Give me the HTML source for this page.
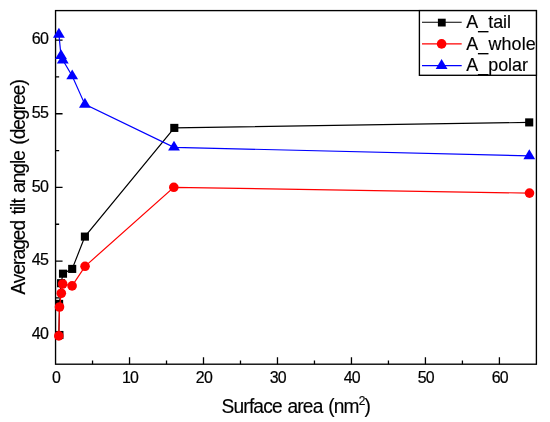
<!DOCTYPE html>
<html><head><meta charset="utf-8"><title>Averaged tilt angle vs surface area</title>
<style>html,body{margin:0;padding:0;background:#fff}svg{display:block}text{font-family:"Liberation Sans",Arial,sans-serif;fill:#000}</style>
</head><body>
<svg width="550" height="422" viewBox="0 0 550 422">
<rect width="550" height="422" fill="#fff"/>
<path d="M55.55 334.73h7M55.55 261.07h7M55.55 187.40h7M55.55 113.73h7M55.55 40.07h7M55.55 297.90h3.6M55.55 224.23h3.6M55.55 150.57h3.6M55.55 76.90h3.6M129.53 364.20v-7M203.50 364.20v-7M277.48 364.20v-7M351.46 364.20v-7M425.43 364.20v-7M499.41 364.20v-7M92.54 364.20v-3.6M166.52 364.20v-3.6M240.49 364.20v-3.6M314.47 364.20v-3.6M388.45 364.20v-3.6M462.42 364.20v-3.6" stroke="#000" stroke-width="1.3" fill="none"/>
<rect x="55.55" y="10.60" width="480.85" height="353.60" fill="none" stroke="#000" stroke-width="1.35"/>
<polyline fill="none" stroke="#000" stroke-width="1.20" points="58.85,335.00 59.50,304.50 61.10,283.20 63.00,273.70 72.20,268.90 84.90,236.60 174.30,127.90 529.20,122.40"/>
<rect x="55.35" y="330.95" width="8.10" height="8.10" fill="#000"/>
<rect x="55.05" y="299.85" width="8.10" height="8.10" fill="#000"/>
<rect x="57.05" y="279.15" width="8.10" height="8.10" fill="#000"/>
<rect x="58.95" y="269.65" width="8.10" height="8.10" fill="#000"/>
<rect x="68.15" y="264.85" width="8.10" height="8.10" fill="#000"/>
<rect x="80.85" y="232.55" width="8.10" height="8.10" fill="#000"/>
<rect x="170.25" y="123.85" width="8.10" height="8.10" fill="#000"/>
<rect x="525.15" y="118.35" width="8.10" height="8.10" fill="#000"/>
<polyline fill="none" stroke="#f00" stroke-width="1.20" points="58.80,335.90 59.50,307.00 61.30,293.25 62.65,284.00 72.10,285.90 85.05,266.30 173.80,187.30 529.50,193.10"/>
<circle cx="58.80" cy="335.90" r="4.80" fill="#f00"/>
<circle cx="59.50" cy="307.00" r="4.80" fill="#f00"/>
<circle cx="61.30" cy="293.25" r="4.80" fill="#f00"/>
<circle cx="62.65" cy="284.00" r="4.80" fill="#f00"/>
<circle cx="72.10" cy="285.90" r="4.80" fill="#f00"/>
<circle cx="85.05" cy="266.30" r="4.80" fill="#f00"/>
<circle cx="173.80" cy="187.30" r="4.80" fill="#f00"/>
<circle cx="529.50" cy="193.10" r="4.80" fill="#f00"/>
<polyline fill="none" stroke="#00f" stroke-width="1.20" points="58.90,34.40 61.00,55.80 62.80,60.10 72.20,76.00 84.90,104.40 174.00,147.30 529.30,155.90"/>
<polygon points="58.90,27.80 53.00,37.70 64.80,37.70" fill="#00f"/>
<polygon points="61.00,49.20 55.10,59.10 66.90,59.10" fill="#00f"/>
<polygon points="62.80,53.50 56.90,63.40 68.70,63.40" fill="#00f"/>
<polygon points="72.20,69.40 66.30,79.30 78.10,79.30" fill="#00f"/>
<polygon points="84.90,97.80 79.00,107.70 90.80,107.70" fill="#00f"/>
<polygon points="174.00,140.70 168.10,150.60 179.90,150.60" fill="#00f"/>
<polygon points="529.30,149.30 523.40,159.20 535.20,159.20" fill="#00f"/>
<rect x="419.4" y="10.60" width="117.00" height="64.70" fill="#fff" stroke="#000" stroke-width="1.35"/>
<path d="M422 22.30H461.7" stroke="#000" stroke-width="1.1"/>
<path d="M422 43.90H461.7" stroke="#f00" stroke-width="1.1"/>
<path d="M422 65.60H461.7" stroke="#00f" stroke-width="1.1"/>
<rect x="437.90" y="18.70" width="7.80" height="7.80" fill="#000"/>
<circle cx="441.60" cy="43.90" r="4.80" fill="#f00"/>
<polygon points="441.60,59.10 435.70,69.00 447.50,69.00" fill="#00f"/>
<text x="466.3" y="27.80" font-size="17.9" stroke="#000" stroke-width="0.15">A_tail</text>
<text x="466.3" y="49.80" font-size="17.9" stroke="#000" stroke-width="0.15" letter-spacing="0.13">A_whole</text>
<text x="466.3" y="71.10" font-size="17.9" stroke="#000" stroke-width="0.15">A_polar</text>
<text x="48.0" y="338.93" font-size="16.0" text-anchor="end" letter-spacing="-0.8" stroke="#000" stroke-width="0.2">40</text>
<text x="48.0" y="265.27" font-size="16.0" text-anchor="end" letter-spacing="-0.8" stroke="#000" stroke-width="0.2">45</text>
<text x="48.0" y="191.60" font-size="16.0" text-anchor="end" letter-spacing="-0.8" stroke="#000" stroke-width="0.2">50</text>
<text x="48.0" y="117.93" font-size="16.0" text-anchor="end" letter-spacing="-0.8" stroke="#000" stroke-width="0.2">55</text>
<text x="48.0" y="44.27" font-size="16.0" text-anchor="end" letter-spacing="-0.8" stroke="#000" stroke-width="0.2">60</text>
<text x="55.95" y="383.4" font-size="15.9" text-anchor="middle" letter-spacing="-0.8" stroke="#000" stroke-width="0.2">0</text>
<text x="129.93" y="383.4" font-size="15.9" text-anchor="middle" letter-spacing="-0.8" stroke="#000" stroke-width="0.2">10</text>
<text x="203.90" y="383.4" font-size="15.9" text-anchor="middle" letter-spacing="-0.8" stroke="#000" stroke-width="0.2">20</text>
<text x="277.88" y="383.4" font-size="15.9" text-anchor="middle" letter-spacing="-0.8" stroke="#000" stroke-width="0.2">30</text>
<text x="351.86" y="383.4" font-size="15.9" text-anchor="middle" letter-spacing="-0.8" stroke="#000" stroke-width="0.2">40</text>
<text x="425.83" y="383.4" font-size="15.9" text-anchor="middle" letter-spacing="-0.8" stroke="#000" stroke-width="0.2">50</text>
<text x="499.81" y="383.4" font-size="15.9" text-anchor="middle" letter-spacing="-0.8" stroke="#000" stroke-width="0.2">60</text>
<text transform="translate(221.6,413.0) scale(0.94,1)" font-size="20.4" letter-spacing="-0.9" word-spacing="1.4" stroke="#000" stroke-width="0.15">Surface area (nm<tspan font-size="12.8" dy="-7.8">2</tspan><tspan dy="7.8">)</tspan></text>
<text transform="translate(24.5,294.7) rotate(-90) scale(0.94,1)" font-size="20.4" letter-spacing="-1.03" word-spacing="2.0" stroke="#000" stroke-width="0.15">Averaged tilt angle (degree)</text>
</svg></body></html>
